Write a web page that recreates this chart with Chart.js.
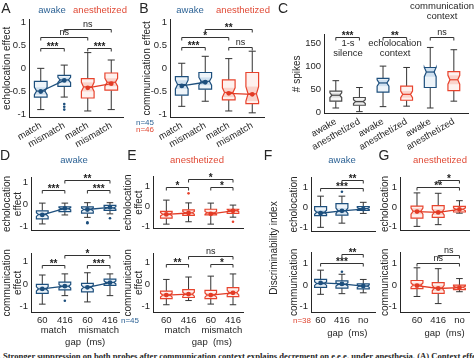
<!DOCTYPE html>
<html><head><meta charset="utf-8">
<script src="https://cdn.jsdelivr.net/npm/chart.js@4.4.1/dist/chart.umd.min.js"></script>
<style>
html,body{margin:0;padding:0;background:#fff}
body{width:474px;height:358px;position:relative;overflow:hidden;font-family:"Liberation Sans",Arial,sans-serif}
canvas{position:absolute}
</style></head><body>
<script>
// ---------------- DATA ----------------
// A: echolocation effect — awake match, awake mismatch, anesthetized match, anesthetized mismatch
const A_categories = ["match","mismatch","match","mismatch"];
const A_whiskerHigh = [0.00, 0.07, 0.34, 0.18];
const A_q3 = [-0.28, -0.15, -0.22, -0.10];
const A_median = [-0.49, -0.25, -0.40, -0.30];
const A_q1 = [-0.62, -0.39, -0.64, -0.47];
const A_whiskerLow = [-0.89, -0.62, -0.92, -0.89];
const A_mean = [-0.50, -0.26, -0.42, -0.33];
const A_outliers = [[], [-0.77, -0.83, -0.89], [], []];
const A_sig = ["***", "***", "ns", "ns"];

// B: communication effect
const B_categories = ["match","mismatch","match","mismatch"];
const B_whiskerHigh = [0.11, 0.26, 0.21, 0.37];
const B_q3 = [-0.18, -0.09, -0.25, -0.09];
const B_median = [-0.35, -0.28, -0.52, -0.55];
const B_q1 = [-0.58, -0.45, -0.68, -0.76];
const B_whiskerLow = [-0.82, -0.71, -0.92, -0.96];
const B_mean = [-0.38, -0.30, -0.54, -0.56];
const B_outliers = [[], [], [], []];
const B_sig = ["***", "ns", "*", "**"];

// C: # spikes — silence, echolocation context, communication context (awake / anesthetized)
const C_categories = ["awake","anesthetized","awake","anesthetized","awake","anesthetized"];
const C_whiskerHigh = [69, 54, 101, 98, 142, 137];
const C_q3 = [46, 32, 74, 57, 98, 89];
const C_median = [37, 23, 64, 39, 88, 71];
const C_q1 = [24, 15, 44, 26, 54, 47];
const C_whiskerLow = [9, 1, 12, 13, 9, 24];
const C_mean = [37, 23, 63, 40, 88, 72];
const C_outliers = [[], [], [], [], [], []];
const C_sig = ["***", "**", "ns"];

// D/E gap categories
const DE_categories = ["60","416","60","416"];
const DE_groups = ["match","mismatch"];
const GAP_TITLE = "gap  (ms)";
// D top: awake, echolocation effect
const Dt_whiskerHigh = [0.04, 0.04, 0.06, 0.06];
const Dt_q3 = [-0.31, -0.13, -0.13, -0.06];
const Dt_median = [-0.48, -0.22, -0.25, -0.18];
const Dt_q1 = [-0.68, -0.35, -0.42, -0.29];
const Dt_whiskerLow = [-0.91, -0.50, -0.61, -0.45];
const Dt_mean = [-0.50, -0.20, -0.25, -0.15];
const Dt_outliers = [[], [], [-0.83, -0.88], [-0.65]];
const Dt_sig = ["***", "***", "**"];
// D bottom: awake, communication effect
const Db_whiskerHigh = [0.40, 0.45, 0.50, 0.45];
const Db_q3 = [-0.02, 0.08, 0.03, 0.22];
const Db_median = [-0.22, -0.10, -0.15, 0.07];
const Db_q1 = [-0.42, -0.26, -0.35, -0.06];
const Db_whiskerLow = [-0.90, -0.52, -0.80, -0.52];
const Db_mean = [-0.22, -0.10, -0.15, 0.06];
const Db_outliers = [[], [-0.75], [], []];
const Db_sig = ["**", "***", "*"];
// E top: anesthetized, echolocation effect
const Et_whiskerHigh = [0.32, 0.18, 0.17, 0.07];
const Et_q3 = [-0.25, -0.17, -0.14, -0.14];
const Et_median = [-0.39, -0.32, -0.32, -0.21];
const Et_q1 = [-0.59, -0.45, -0.42, -0.35];
const Et_whiskerLow = [-0.89, -0.77, -0.89, -0.54];
const Et_mean = [-0.40, -0.33, -0.37, -0.22];
const Et_outliers = [[], [0.66], [], [-0.77]];
const Et_sig = ["*", "*", "*"];
// E bottom: anesthetized, communication effect
const Eb_whiskerHigh = [0.23, 0.34, 0.38, 0.48];
const Eb_q3 = [-0.30, -0.23, -0.27, -0.14];
const Eb_median = [-0.48, -0.44, -0.48, -0.37];
const Eb_q1 = [-0.64, -0.59, -0.64, -0.55];
const Eb_whiskerLow = [-0.92, -0.73, -0.89, -0.92];
const Eb_mean = [-0.48, -0.44, -0.48, -0.38];
const Eb_outliers = [[], [], [], []];
const Eb_sig = ["**", "*", "ns"];

// F/G gap categories
const FG_categories = ["60","416","no"];
// F top: awake, echolocation discriminability
const Ft_whiskerHigh = [0.57, 0.57, 0.26];
const Ft_q3 = [0.04, 0.19, 0.05];
const Ft_median = [-0.24, -0.17, -0.05];
const Ft_q1 = [-0.41, -0.39, -0.15];
const Ft_whiskerLow = [-1.00, -0.79, -0.30];
const Ft_mean = [-0.29, -0.17, -0.08];
const Ft_outliers = [[], [0.79], []];
const Ft_sig = ["***", "**"];
// F bottom: awake, communication discriminability
const Fb_whiskerHigh = [0.69, 0.50, 0.26];
const Fb_q3 = [0.26, 0.19, 0.05];
const Fb_median = [0.07, 0.03, -0.05];
const Fb_q1 = [-0.11, -0.14, -0.18];
const Fb_whiskerLow = [-0.43, -0.40, -0.36];
const Fb_mean = [0.10, 0.05, -0.05];
const Fb_outliers = [[], [0.62], []];
const Fb_sig = ["***", "**"];
// G top: anesthetized, echolocation discriminability
const Gt_whiskerHigh = [0.72, 0.70, 0.32];
const Gt_q3 = [0.04, 0.07, 0.03];
const Gt_median = [-0.22, -0.26, -0.12];
const Gt_q1 = [-0.58, -0.54, -0.26];
const Gt_whiskerLow = [-1.00, -0.91, -0.32];
const Gt_mean = [-0.24, -0.28, -0.13];
const Gt_outliers = [[], [], []];
const Gt_sig = ["**", "*"];
// G bottom: anesthetized, communication discriminability
const Gb_whiskerHigh = [0.80, 0.76, 0.30];
const Gb_q3 = [0.21, 0.11, 0.00];
const Gb_median = [0.00, -0.14, -0.10];
const Gb_q1 = [-0.17, -0.39, -0.21];
const Gb_whiskerLow = [-0.53, -0.86, -0.31];
const Gb_mean = [-0.03, -0.16, -0.12];
const Gb_outliers = [[], [], []];
const Gb_sig = ["ns", "ns"];

// ---------------- STYLE ----------------
const FONT = '"Liberation Sans", Arial, sans-serif';
const INK = '#262626';
const COL = {
  b: {edge:'#1d4f7d', fill:'#eef4f9', notch:'#cfe0ef', mean:'#1d4f7d'},
  r: {edge:'#e8432d', fill:'#fef1ee', notch:'#fad3cb', mean:'#e23b25'},
  g: {edge:'#4a4a4a', fill:'#f6f6f6', notch:'#dedede', mean:'#4a4a4a'}
};
const BLUE_TXT = '#2f6496', RED_TXT = '#e04a36';

function statsOf(wh,q3,md,q1,wl,mn,out){ return {wh,q3,md,q1,wl,mn,out}; }

function boxPlugin(p){
  return {
    id:'boxes',
    beforeDatasetsDraw(chart){
      const {ctx, scales:{x,y}} = chart;
      const sp = Math.abs(x.getPixelForValue(2)-x.getPixelForValue(1));
      const w = sp*p.boxFrac;
      const s = p.stats;
      ctx.save();
      for(let i=0;i<s.md.length;i++){
        const c = COL[p.colors[i]];
        const cx = x.getPixelForValue(p.pos[i]);
        const L = cx-w/2, R = cx+w/2, nw = w*0.17;
        const nh = 1.57*(s.q3[i]-s.q1[i])/Math.sqrt(p.n);
        const Y = v=>y.getPixelForValue(v);
        // whiskers
        ctx.strokeStyle = '#333'; ctx.lineWidth = 1;
        ctx.beginPath();
        ctx.moveTo(cx, Y(s.q3[i])); ctx.lineTo(cx, Y(s.wh[i]));
        ctx.moveTo(cx, Y(s.q1[i])); ctx.lineTo(cx, Y(s.wl[i]));
        ctx.moveTo(cx-w*0.28, Y(s.wh[i])); ctx.lineTo(cx+w*0.28, Y(s.wh[i]));
        ctx.moveTo(cx-w*0.28, Y(s.wl[i])); ctx.lineTo(cx+w*0.28, Y(s.wl[i]));
        ctx.stroke();
        // notched box
        const hi = Y(s.md[i]+nh), lo = Y(s.md[i]-nh), m = Y(s.md[i]);
        const path = ()=>{
          ctx.beginPath();
          ctx.moveTo(L, Y(s.q3[i])); ctx.lineTo(L, hi); ctx.lineTo(L+nw, m); ctx.lineTo(L, lo);
          ctx.lineTo(L, Y(s.q1[i])); ctx.lineTo(R, Y(s.q1[i])); ctx.lineTo(R, lo); ctx.lineTo(R-nw, m);
          ctx.lineTo(R, hi); ctx.lineTo(R, Y(s.q3[i])); ctx.closePath();
        };
        path(); ctx.fillStyle = c.fill; ctx.fill();
        ctx.save(); path(); ctx.clip();
        ctx.fillStyle = c.notch; ctx.fillRect(L-2, hi, w+4, lo-hi);
        ctx.restore();
        path(); ctx.strokeStyle = c.edge; ctx.lineWidth = 1.2; ctx.stroke();
        ctx.beginPath(); ctx.moveTo(L+nw, m); ctx.lineTo(R-nw, m); ctx.stroke();
      }
      ctx.restore();
    },
    afterDatasetsDraw(chart){
      const {ctx, scales:{x,y}} = chart;
      ctx.save();
      ctx.strokeStyle = '#333'; ctx.fillStyle = '#222'; ctx.lineWidth = 1;
      ctx.textAlign = 'center'; ctx.textBaseline = 'bottom';
      (p.brackets||[]).forEach((b,k)=>{
        const x1 = x.getPixelForValue(b[0]), x2 = x.getPixelForValue(b[1]);
        const yb = Math.round(y.getPixelForValue(b[2]))+0.5;
        ctx.beginPath();
        ctx.moveTo(x1, yb+3); ctx.lineTo(x1, yb); ctx.lineTo(x2, yb); ctx.lineTo(x2, yb+3);
        ctx.stroke();
        const t = p.sig[k];
        ctx.font = (t.indexOf('*')>=0 ? 'bold 10px ' : '9px ') + FONT;
        ctx.fillText(t, (x1+x2)/2, yb + (t.indexOf('*')>=0 ? 4 : -0.5));
      });
      ctx.font = '9.5px '+FONT; ctx.fillStyle = INK; ctx.textBaseline='middle';
      if(p.groups){
        p.groups.forEach(g=>{
          ctx.fillText(g[0], x.getPixelForValue(g[1]), chart.chartArea.bottom + 18);
        });
      }
      if(p.xtitle){
        ctx.fillText(p.xtitle, x.getPixelForValue(p.xtitlePos), chart.chartArea.bottom + p.xtitleDy);
      }
      ctx.restore();
    }
  };
}

function makePanel(p){
  const yW = p.yW, padTop = p.padTop ?? 4, padRight = p.padRight ?? 4, xH = p.xH;
  const W = (p.right - p.left) + yW + padRight;
  const H = padTop + (p.bottom - p.top) + xH;
  const cv = document.createElement('canvas');
  cv.width = W; cv.height = H;
  cv.style.left = (p.left - yW)+'px'; cv.style.top = (p.top - padTop)+'px';
  cv.style.width = W+'px'; cv.style.height = H+'px';
  document.body.appendChild(cv);
  const s = p.stats;
  const datasets = [];
  p.links.forEach(grp=>{
    const c = COL[p.colors[grp[0]]];
    datasets.push({data: grp.map(i=>({x:p.pos[i], y:s.mn[i]})), showLine:true,
      borderColor:c.mean, backgroundColor:c.mean, borderWidth:1.3, pointRadius:2.4, pointBorderWidth:0});
  });
  const outPts=[], outCol=[];
  s.out.forEach((arr,i)=>arr.forEach(v=>{outPts.push({x:p.pos[i], y:v}); outCol.push(COL[p.colors[i]].edge);}));
  datasets.push({data: outPts, pointRadius:1.3, pointBackgroundColor:outCol, pointBorderWidth:0, showLine:false});
  new Chart(cv, {
    type:'scatter',
    data:{datasets},
    options:{
      responsive:false, animation:false, events:[],
      layout:{padding:{top:padTop, right:padRight, left:0, bottom:0}},
      plugins:{legend:{display:false}, tooltip:{enabled:false}},
      scales:{
        x:{type:'linear', min:p.xmin, max:p.xmax,
          grid:{display:false, drawTicks:false}, border:{display:true, color:INK, width:1},
          afterBuildTicks: sc=>{ sc.ticks = p.pos.map(v=>({value:v})); },
          afterFit: sc=>{ sc.height = xH; },
          ticks:{autoSkip:false, minRotation:p.rot||0, maxRotation:p.rot||0, padding:p.xpad ?? 3,
            color:INK, font:{size:9.5, family:FONT}, callback:(v,i)=>p.xlabels[i]},
          title:{display:false}
        },
        y:{type:'linear', min:p.ymin, max:p.ymax,
          grid:{display:false, drawTicks:false}, border:{display:true, color:INK, width:1},
          afterBuildTicks: sc=>{ sc.ticks = p.yticks.map(v=>({value:v})); },
          afterFit: sc=>{ sc.width = yW; },
          ticks:{padding:3, color:INK, font:{size:9.5, family:FONT}, callback:v=>String(v)},
          title:{display:!!p.ytitle, text:p.ytitle, color:INK, font:{size:10, family:FONT, lineHeight:1.1}, padding:{top:p.ytpad ?? 2, bottom:0}}
        }
      }
    },
    plugins:[boxPlugin(p)]
  });
}

function label(html, cx, cy, o={}){
  const d = document.createElement('div');
  d.innerHTML = html;
  d.style.cssText = `position:absolute;left:${cx}px;top:${cy}px;transform:translate(-50%,-50%)${o.rot?' rotate('+o.rot+'deg)':''};`+
    `font-size:${o.size||9.5}px;color:${o.color||INK};white-space:nowrap;line-height:${o.lh||1.1};text-align:center;`+
    `font-weight:${o.weight||'normal'};font-family:${o.family||FONT}`;
  document.body.appendChild(d);
}

// ---------------- PANELS ----------------
makePanel({left:29, right:123, top:15, bottom:117, yW:29, xH:42, xmin:0.5, xmax:4.5, ymin:-1.05, ymax:1.05,
  pos:[1,2,3,4], xlabels:A_categories, rot:30, yticks:[-1,-0.5,0,0.5,1], ytitle:'echolocation effect',
  colors:['b','b','r','r'], n:45, boxFrac:0.54, links:[[0,1],[2,3]],
  stats:statsOf(A_whiskerHigh,A_q3,A_median,A_q1,A_whiskerLow,A_mean,A_outliers),
  sig:A_sig, brackets:[[1,2,0.43],[3,4,0.43],[1,3,0.67],[2,4,0.86]]});
makePanel({left:170, right:264, top:15, bottom:117, yW:30, xH:42, xmin:0.5, xmax:4.5, ymin:-1.05, ymax:1.05,
  pos:[1,2,3,4], xlabels:B_categories, rot:30, yticks:[-1,-0.5,0,0.5,1], ytitle:'communication effect',
  colors:['b','b','r','r'], n:45, boxFrac:0.54, links:[[0,1],[2,3]],
  stats:statsOf(B_whiskerHigh,B_q3,B_median,B_q1,B_whiskerLow,B_mean,B_outliers),
  sig:B_sig, brackets:[[1,2,0.47],[3,4,0.47],[1,3,0.67],[2,4,0.86]]});
makePanel({left:324, right:468, top:30, bottom:113, yW:34, xH:45, xmin:0.5, xmax:6.6, ymin:-2, ymax:170,
  pos:[1,2,3,4,5,6], xlabels:C_categories, rot:30, yticks:[0,50,100,150], ytitle:'# spikes',
  colors:['g','g','b','r','b','r'], n:45, boxFrac:0.5, links:[],
  stats:statsOf(C_whiskerHigh,C_q3,C_median,C_q1,C_whiskerLow,C_mean,C_outliers),
  sig:C_sig, brackets:[[1,2,164],[3,4,164],[5,6,164]]});

// D
makePanel({left:31, right:119, top:173, bottom:235, yW:31, xH:4, xmin:0.5, xmax:4.4, ymin:-1.2, ymax:1.2,
  pos:[1,2,3,4], xlabels:['','','',''], yticks:[-1,0,1], ytitle:['echolocation','effect'],
  colors:['b','b','b','b'], n:45, boxFrac:0.52, links:[[0,1],[2,3]],
  stats:statsOf(Dt_whiskerHigh,Dt_q3,Dt_median,Dt_q1,Dt_whiskerLow,Dt_mean,Dt_outliers),
  sig:Dt_sig, brackets:[[1,2,0.62],[3,4,0.62],[2,4,1.1]]});
makePanel({left:31, right:119, top:249, bottom:312, yW:31, xH:36, xmin:0.5, xmax:4.4, ymin:-1.25, ymax:1.35,
  pos:[1,2,3,4], xlabels:DE_categories, yticks:[-1,0,1], ytitle:['communication','effect'],
  xtitle:GAP_TITLE, xtitlePos:2.9, xtitleDy:30,
  groups:[[DE_groups[0],1.5],[DE_groups[1],3.5]],
  colors:['b','b','b','b'], n:45, boxFrac:0.52, links:[[0,1],[2,3]],
  stats:statsOf(Db_whiskerHigh,Db_q3,Db_median,Db_q1,Db_whiskerLow,Db_mean,Db_outliers),
  sig:Db_sig, brackets:[[1,2,0.85],[3,4,0.85],[2,4,1.3]]});
// E
makePanel({left:153, right:243, top:172, bottom:233, yW:32, xH:4, xmin:0.4, xmax:4.45, ymin:-1.1, ymax:1.5,
  pos:[1,2,3,4], xlabels:['','','',''], yticks:[-1,0,1], ytitle:['echolocation','effect'],
  colors:['r','r','r','r'], n:38, boxFrac:0.52, links:[[0,1],[2,3]],
  stats:statsOf(Et_whiskerHigh,Et_q3,Et_median,Et_q1,Et_whiskerLow,Et_mean,Et_outliers),
  sig:Et_sig, brackets:[[1,2,1.0],[3,4,1.0],[2,4,1.4]]});
makePanel({left:153, right:243, top:249, bottom:312, yW:32, xH:36, xmin:0.4, xmax:4.45, ymin:-1.25, ymax:1.4,
  pos:[1,2,3,4], xlabels:DE_categories, yticks:[-1,0,1], ytitle:['communication','effect'],
  xtitle:GAP_TITLE, xtitlePos:3.05, xtitleDy:30,
  groups:[[DE_groups[0],1.5],[DE_groups[1],3.5]],
  colors:['r','r','r','r'], n:38, boxFrac:0.52, links:[[0,1],[2,3]],
  stats:statsOf(Eb_whiskerHigh,Eb_q3,Eb_median,Eb_q1,Eb_whiskerLow,Eb_mean,Eb_outliers),
  sig:Eb_sig, brackets:[[1,2,0.92],[3,4,0.92],[2,4,1.3]]});
// F
makePanel({left:311, right:375, top:173, bottom:236, yW:24, xH:4, xmin:0.55, xmax:3.55, ymin:-1.2, ymax:1.5,
  pos:[1,2,3], xlabels:['','',''], yticks:[-1,0,1], ytitle:'echolocation',
  colors:['b','b','b'], n:45, boxFrac:0.56, links:[[0,1,2]],
  stats:statsOf(Ft_whiskerHigh,Ft_q3,Ft_median,Ft_q1,Ft_whiskerLow,Ft_mean,Ft_outliers),
  sig:Ft_sig, brackets:[[1,3,1.0],[2,3,1.37]]});
makePanel({left:311, right:375, top:248, bottom:312, yW:24, xH:27, xmin:0.55, xmax:3.55, ymin:-1.25, ymax:1.5,
  pos:[1,2,3], xlabels:FG_categories, yticks:[-1,0,1], ytitle:'communication',
  xtitle:GAP_TITLE, xtitlePos:2.25, xtitleDy:21,
  colors:['b','b','b'], n:45, boxFrac:0.56, links:[[0,1,2]],
  stats:statsOf(Fb_whiskerHigh,Fb_q3,Fb_median,Fb_q1,Fb_whiskerLow,Fb_mean,Fb_outliers),
  sig:Fb_sig, brackets:[[1,3,1.03],[2,3,1.43]]});
// G
makePanel({left:400, right:472, top:173, bottom:235, yW:22, xH:4, padRight:1, xmin:0.2, xmax:3.45, ymin:-1.2, ymax:1.5,
  pos:[1,2,3], xlabels:['','',''], yticks:[-1,0,1], ytitle:'echolocation',
  colors:['r','r','r'], n:38, boxFrac:0.56, links:[[0,1,2]],
  stats:statsOf(Gt_whiskerHigh,Gt_q3,Gt_median,Gt_q1,Gt_whiskerLow,Gt_mean,Gt_outliers),
  sig:Gt_sig, brackets:[[1,3,1.0],[2,3,1.4]]});
makePanel({left:400, right:472, top:248, bottom:312, yW:22, xH:27, padRight:1, xmin:0.2, xmax:3.45, ymin:-1.25, ymax:1.5,
  pos:[1,2,3], xlabels:FG_categories, yticks:[-1,0,1], ytitle:'communication',
  xtitle:GAP_TITLE, xtitlePos:2.3, xtitleDy:21,
  colors:['r','r','r'], n:38, boxFrac:0.56, links:[[0,1,2]],
  stats:statsOf(Gb_whiskerHigh,Gb_q3,Gb_median,Gb_q1,Gb_whiskerLow,Gb_mean,Gb_outliers),
  sig:Gb_sig, brackets:[[1,3,1.0],[2,3,1.4]]});

// ---------------- TEXT ----------------
const L14 = {size:14};
label('A', 6, 9, L14); label('B', 144, 9, L14); label('C', 283, 9, L14);
label('D', 5, 156, L14); label('E', 132, 156, L14); label('F', 268, 156, L14); label('G', 384, 156, L14);
label('awake', 52, 10, {color:BLUE_TXT}); label('anesthetized', 100, 10, {color:RED_TXT});
label('awake', 190, 10, {color:BLUE_TXT}); label('anesthetized', 243, 10, {color:RED_TXT});
label('awake', 74, 160, {color:BLUE_TXT}); label('anesthetized', 197, 160, {color:RED_TXT});
label('awake', 342, 160, {color:BLUE_TXT}); label('anesthetized', 440, 160, {color:RED_TXT});
label('n=45', 145, 123, {size:8, color:BLUE_TXT}); label('n=46', 145, 130, {size:8, color:RED_TXT});
label('n=45', 130, 321, {size:8, color:BLUE_TXT}); label('n=38', 302, 321, {size:8, color:RED_TXT});
label('1-s<br>silence', 348, 48, {size:9.5});
label('echolocation<br>context', 395, 48, {size:9.5});
label('communication<br>context', 442, 11, {size:9.5});
label('Discriminability index', 273, 248, {size:10, rot:-90});
label('Fig 7. Stronger suppression on both probes after communication context explains decrement on e.e.e. under anesthesia. (A) Context effect on',
  237, 357, {size:8.6, weight:'bold', family:'"Liberation Serif", "DejaVu Serif", serif'});
</script>
</body></html>
